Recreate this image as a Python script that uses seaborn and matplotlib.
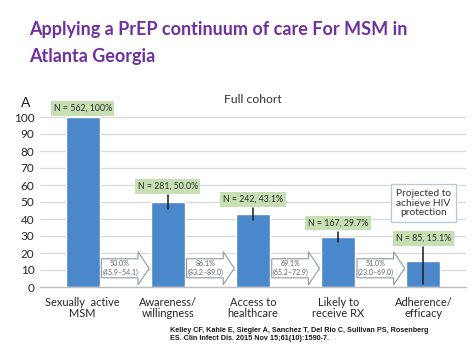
import matplotlib
matplotlib.use("Agg")
import matplotlib.pyplot as plt
import seaborn as sns
import pandas as pd
from matplotlib.patches import FancyArrow

# ---- data ----
categories = ["Sexually  active\nMSM", "Awareness/\nwillingness", "Access to\nhealthcare",
              "Likely to\nreceive RX", "Adherence/\nefficacy"]
percent = [100.0, 50.0, 43.1, 29.7, 15.1]
ci_low = [100.0, 45.9, 39.5, 26.7, 1.8]
ci_high = [100.0, 54.1, 46.5, 32.6, 23.5]
counts = [562, 281, 242, 167, 85]
box_labels = ["N = 562, 100%", "N = 281, 50.0%", "N = 242, 43.1%",
              "N = 167, 29.7%", "N = 85, 15.1%"]
step_labels = ["50.0%\n(45.9\u201354.1)", "86.1%\n(83.2\u201389.0)",
               "69.1%\n(65.2\u201372.9)", "51.0%\n(23.0\u201369.0)"]
yticks = [0, 10, 20, 30, 40, 50, 60, 70, 80, 90, 100]
title = "Applying a PrEP continuum of care For MSM in\nAtlanta Georgia"
citation = ("Kelley CF, Kahle E, Siegler A, Sanchez T, Del Rio C, Sullivan PS, Rosenberg\n"
            "ES. Clin Infect Dis. 2015 Nov 15;61(10):1590-7.")

df = pd.DataFrame({"stage": categories, "pct": percent})

sns.set_theme(style="white")
plt.rcParams["font.family"] = ["Lato", "DejaVu Sans"]

W, H = 474, 355
fig = plt.figure(figsize=(W / 100, H / 100), dpi=100)
fig.patch.set_facecolor("white")
ax = fig.add_axes([40 / W, 1 - 287 / H, 426 / W, 170 / H])

sns.barplot(data=df, x="stage", y="pct", color="#4A88CB", saturation=1,
            width=0.4, ax=ax, errorbar=None, zorder=2)

xs = list(range(len(categories)))
# error bars (skip first, no CI)
for i in xs[1:]:
    ax.plot([i, i], [ci_low[i], ci_high[i]], color="#1a1a1a", lw=1.1, zorder=3)

ax.set_ylim(0, 100)
ax.set_xlim(-0.5, len(categories) - 0.5)
ax.set_yticks(yticks)
ax.yaxis.grid(True, color="#d9d9d9", lw=0.9, zorder=0)
ax.set_axisbelow(True)
for s in ["left", "top", "right"]:
    ax.spines[s].set_visible(False)
ax.spines["bottom"].set_color("#bfbfbf")
ax.spines["bottom"].set_linewidth(1.0)
ax.tick_params(axis="y", length=0, pad=4, labelsize=8.5, labelcolor="#262626")
ax.tick_params(axis="x", length=0, pad=7, labelsize=7.9, labelcolor="#262626")
for lab in ax.get_xticklabels():
    lab.set_linespacing(1.05)
ax.set_xlabel("")
ax.set_ylabel("")

# green N labels
for i in xs:
    ax.text(i, ci_high[i] + 5, box_labels[i], ha="center", va="center",
            fontsize=6.3, color="#2b2b2b", clip_on=False, zorder=5,
            bbox=dict(boxstyle="square,pad=0.3", fc="#C6E0B4", ec="none"))

# step arrows between bars
for i, lab in enumerate(step_labels):
    x0 = i + 0.22
    length = 0.56
    arr = FancyArrow(x0, 11, length, 0, width=11.2, head_width=19.5,
                     head_length=0.13, length_includes_head=True,
                     fc="white", ec="#8c9aa6", lw=0.8, zorder=4)
    ax.add_patch(arr)
    ax.text(x0 + 0.22, 11, lab, ha="center", va="center", fontsize=5.1,
            color="#5a6470", linespacing=1.25, zorder=5)

# projection box
ax.text(4, 49.4, "Projected to\nachieve HIV\nprotection", ha="center", va="center",
        fontsize=7.4, color="#333333", linespacing=1.1, clip_on=False, zorder=5,
        bbox=dict(boxstyle="square,pad=0.45", fc="white", ec="#b4c8d8", lw=0.9))

ax.text(-0.033, 108.5, "A", transform=ax.get_yaxis_transform(), ha="center",
        va="center", fontsize=10, color="#1a1a1a", clip_on=False)
ax.text(0.5, 110.5, "Full cohort", transform=ax.get_yaxis_transform(), ha="center",
        va="center", fontsize=8.8, color="#333333", clip_on=False)

fig.text(29 / W, 1 - 21 / H, title, ha="left", va="top", fontsize=13,
         fontweight="bold", color="#7030A0", linespacing=1.7)
fig.text(170 / W, 1 - 335 / H, citation, ha="left", va="center",
         fontsize=5.25, fontweight="bold", color="#1a1a1a",
         family=["Liberation Sans", "DejaVu Sans"], linespacing=1.2)

fig.savefig("out.png", dpi=100, facecolor="white")
